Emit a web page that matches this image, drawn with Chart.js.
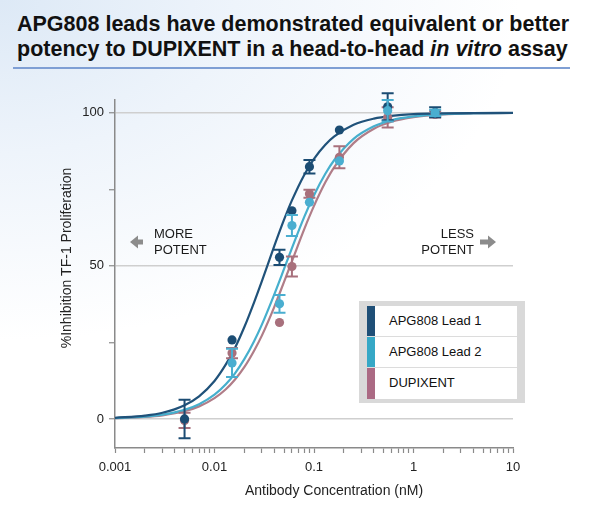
<!DOCTYPE html>
<html>
<head>
<meta charset="utf-8">
<script src="https://cdn.jsdelivr.net/npm/chart.js@4.4.1/dist/chart.umd.min.js"></script>
<style>
  html, body { margin: 0; padding: 0; }
  body {
    width: 591px; height: 516px; position: relative; overflow: hidden;
    font-family: "Liberation Sans", Arial, sans-serif;
    background: radial-gradient(ellipse 520px 340px at 0px 0px, #dde9f6 0%, #eef4fb 45%, #ffffff 100%);
  }
  #title {
    position: absolute; left: 17px; top: 12px; margin: 0;
    font-size: 21.5px; line-height: 25px; font-weight: bold; color: #111;
    white-space: nowrap;
  }
  #rule { position: absolute; left: 13px; top: 67px; width: 557px; height: 2px; background: #7f9fd4; }
  #chart { position: absolute; left: 0; top: 0; }
  #legend {
    position: absolute; left: 359px; top: 301px; width: 150px;
    padding: 5px 8px 4px 8px; background: #d9d9d9;
  }
  .row { display: flex; height: 30px; background: #fff; border-bottom: 1px solid #dcdcdc; }
  .row:last-child { border-bottom: none; height: 31px; }
  .sw { width: 8px; height: 100%; }
  .lab { padding-left: 14px; line-height: 30px; font-size: 13px; color: #111; }
</style>
</head>
<body>
<div id="title">APG808 leads have demonstrated equivalent or better<br>potency to DUPIXENT in a head-to-head <i>in vitro</i> assay</div>
<div id="rule"></div>
<canvas id="chart" width="591" height="516"></canvas>
<div id="legend"></div>
<script>
// series
const seriesNames = ["APG808 Lead 1", "APG808 Lead 2", "DUPIXENT"];
const swatchColors = ["#1f4f77", "#36a8c6", "#ab6a84"];
const lineColors = ["#20527a", "#46afcd", "#b07d88"];
const markerColors = ["#1b4c73", "#4aaed0", "#a8707c"];

// fitted curves
const curveConc = [0.001, 0.002, 0.003, 0.005, 0.007, 0.01, 0.013, 0.016, 0.02, 0.025, 0.03, 0.04, 0.05, 0.06, 0.08, 0.1, 0.13, 0.16, 0.25, 0.4, 0.6, 1, 2, 4, 10];
const lead1Curve = [0.36, 1.07, 2.0, 4.5, 7.4, 12.4, 17.8, 23.1, 30.1, 38.1, 45.1, 56.6, 65.1, 71.4, 79.8, 85.0, 89.6, 92.3, 96.1, 98.1, 99.0, 99.6, 99.85, 99.95, 100];
const lead2Curve = [0.27, 0.76, 1.39, 2.96, 4.8, 7.9, 11.3, 14.8, 19.6, 25.4, 30.9, 40.8, 49.0, 55.8, 66.1, 73.1, 80.1, 84.6, 91.5, 95.6, 97.6, 98.85, 99.6, 99.85, 99.96];
const dupiCurve = [0.23, 0.64, 1.18, 2.5, 4.1, 6.8, 9.7, 12.8, 17.0, 22.3, 27.3, 36.7, 44.8, 51.5, 62.1, 69.6, 77.3, 82.3, 90.1, 94.8, 97.1, 98.6, 99.5, 99.83, 99.96];

// measured points (mean, +/- error)
const pointConc = [0.005, 0.015, 0.045, 0.06, 0.09, 0.18, 0.55, 1.65];
const lead1Mean = [0, 25.8, 52.8, 68, 82.4, 94.4, 102, 100.2];
const lead1Err = [6.3, 0, 2.5, 0, 2.2, 0, 4.4, 1.6];
const lead2Mean = [null, 18.3, 37.6, 63.2, 70.8, 84.3, 100.7, 100];
const lead2Err = [0, 4.6, 2.9, 3.4, 0, 0, 3.5, 1];
const dupiMean = [-0.5, 21.5, 31.5, 49.8, 73.6, 85.5, 98.5, 99.5];
const dupiErr = [2.5, 1.7, 0, 3.3, 1.3, 3.6, 3.3, 1];

// axes
const xDecades = [0.001, 0.01, 0.1, 1, 10];
const xTickLabels = ["0.001", "0.01", "0.1", "1", "10"];
const yTicks = [0, 25, 50, 75, 100];
const yTickLabels = ["0", "", "50", "", "100"];

const FONT = '"Liberation Sans", Arial, sans-serif';

function pts(xs, ys) {
  return xs.map((x, i) => ({ x: x, y: ys[i] }));
}

function curveSet(i, ys) {
  return {
    type: "line", label: seriesNames[i], data: pts(curveConc, ys),
    borderColor: lineColors[i], borderWidth: 2.2, pointRadius: 0,
    cubicInterpolationMode: "monotone", fill: false, order: 10 + i
  };
}

function pointSet(i, ys, errs, order) {
  return {
    type: "scatter", label: seriesNames[i], data: pts(pointConc, ys), errors: errs,
    backgroundColor: markerColors[i], borderWidth: 0, pointRadius: 4.6, order: order
  };
}

const errorBars = {
  id: "errorBars",
  beforeDatasetDraw(chart, args) {
    const ds = chart.data.datasets[args.index];
    if (!ds.errors) return;
    const { ctx, scales: { x, y } } = chart;
    ctx.save();
    ctx.strokeStyle = ds.backgroundColor;
    ctx.lineWidth = 2;
    ds.data.forEach((p, i) => {
      const e = ds.errors[i];
      if (p.y == null || !e) return;
      const px = x.getPixelForValue(p.x);
      const top = y.getPixelForValue(p.y + e);
      const bot = y.getPixelForValue(p.y - e);
      ctx.beginPath();
      ctx.moveTo(px, top); ctx.lineTo(px, bot);
      ctx.moveTo(px - 6, top); ctx.lineTo(px + 6, top);
      ctx.moveTo(px - 6, bot); ctx.lineTo(px + 6, bot);
      ctx.stroke();
    });
    ctx.restore();
  }
};

// axis titles and the potency arrows
const extras = {
  id: "extras",
  afterDraw(chart) {
    const ctx = chart.ctx;
    ctx.save();
    ctx.fillStyle = "#222";
    ctx.font = "14px " + FONT;
    ctx.textAlign = "center";
    ctx.textBaseline = "middle";
    ctx.fillText("Antibody Concentration (nM)", 334, 491);
    ctx.translate(67.5, 258);
    ctx.rotate(-Math.PI / 2);
    ctx.fillText("%Inhibition TF-1 Proliferation", 0, 0);
    ctx.restore();

    ctx.save();
    ctx.font = "13px " + FONT;
    ctx.fillStyle = "#1a1a1a";
    ctx.textBaseline = "middle";
    ctx.textAlign = "left";
    ctx.fillText("MORE", 154, 234);
    ctx.fillText("POTENT", 154, 250);
    ctx.textAlign = "right";
    ctx.fillText("LESS", 474, 234);
    ctx.fillText("POTENT", 474, 250);

    ctx.fillStyle = "#8c8c8c";
    // left arrow
    ctx.beginPath();
    ctx.moveTo(130, 242); ctx.lineTo(138, 235.5); ctx.lineTo(138, 239.5);
    ctx.lineTo(143, 239.5); ctx.lineTo(143, 244.5); ctx.lineTo(138, 244.5);
    ctx.lineTo(138, 248.5); ctx.closePath(); ctx.fill();
    // right arrow
    ctx.beginPath();
    ctx.moveTo(496, 242); ctx.lineTo(488, 235.5); ctx.lineTo(488, 239.5);
    ctx.lineTo(480, 239.5); ctx.lineTo(480, 244.5); ctx.lineTo(488, 244.5);
    ctx.lineTo(488, 248.5); ctx.closePath(); ctx.fill();
    ctx.restore();
  }
};

const xTickValues = [];
xDecades.forEach((d, i) => {
  xTickValues.push(d);
  if (i < xDecades.length - 1) {
    for (let m = 2; m <= 9; m++) xTickValues.push(d * m);
  }
});

new Chart(document.getElementById("chart"), {
  data: {
    datasets: [
      curveSet(0, lead1Curve),
      curveSet(1, lead2Curve),
      curveSet(2, dupiCurve),
      pointSet(2, dupiMean, dupiErr, 3),
      pointSet(0, lead1Mean, lead1Err, 2),
      pointSet(1, lead2Mean, lead2Err, 1)
    ]
  },
  options: {
    responsive: false,
    animation: false,
    layout: { padding: { left: 0, right: 78, top: 100, bottom: 0 } },
    plugins: { legend: { display: false }, tooltip: { enabled: false } },
    scales: {
      x: {
        type: "logarithmic", min: 0.001, max: 10,
        afterBuildTicks: s => { s.ticks = xTickValues.map(v => ({ value: v })); },
        afterFit: s => { s.height = 68; },
        border: { color: "#8a8a8a", width: 1.5 },
        grid: { drawOnChartArea: false, tickLength: 5, tickColor: "#8a8a8a", tickWidth: 1.2 },
        ticks: {
          autoSkip: false, maxRotation: 0, padding: 7,
          color: "#222", font: { family: FONT, size: 13 },
          callback: v => { const k = xDecades.indexOf(v); return k < 0 ? "" : xTickLabels[k]; }
        }
      },
      y: {
        type: "linear", min: -9.5, max: 104.2,
        afterBuildTicks: s => { s.ticks = yTicks.map(v => ({ value: v })); },
        afterFit: s => { s.width = 115; },
        border: { color: "#8a8a8a", width: 1.5 },
        grid: {
          color: c => (c.tick && c.tick.value % 50 === 0) ? "#cfcfcf" : "rgba(0,0,0,0)",
          lineWidth: 1.5, tickLength: 6, tickColor: "#8a8a8a", tickWidth: 1.2
        },
        ticks: {
          padding: 5, color: "#222", font: { family: FONT, size: 13 },
          callback: (v, i) => yTickLabels[i]
        }
      }
    }
  },
  plugins: [errorBars, extras]
});

// legend box
const legend = document.getElementById("legend");
seriesNames.forEach((name, i) => {
  const row = document.createElement("div");
  row.className = "row";
  row.innerHTML = '<div class="sw" style="background:' + swatchColors[i] + '"></div><div class="lab">' + name + "</div>";
  legend.appendChild(row);
});
</script>
</body>
</html>
